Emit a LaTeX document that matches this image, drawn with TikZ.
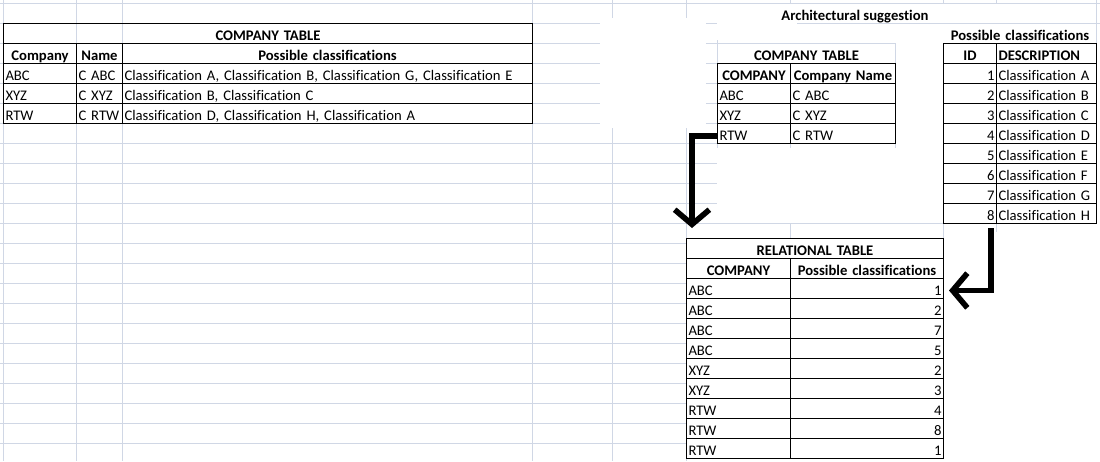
\documentclass[tikz,border=0pt]{standalone}
\usepackage{fontspec}
\setmainfont{Carlito}[Ligatures={NoCommon}]
\usepackage{xcolor}
\usepackage{tikz}
\usetikzlibrary{arrows.meta}
\definecolor{sheetgray}{RGB}{208,215,229}
\newcommand{\cfont}{\fontsize{11pt}{13pt}\selectfont}

\begin{document}
\begin{tikzpicture}[x=0.75pt, y=-0.75pt,
    every node/.style={font=\cfont},
    sheetline/.style={draw=sheetgray, line width=0.75pt},
    cell/.style={draw=black, line width=0.75pt, anchor=north west,
      inner xsep=1.5pt, inner ysep=0pt, text height=12.75pt,
      text depth=2.25pt, text width=#1, align=left},
    ctr/.style={align=center},
    rgt/.style={align=right},
    hd/.style={font=\cfont\bfseries},
    bigarrow/.style={draw=black, line width=4.2pt,
      -{Straight Barb[length=11pt, width=26pt]}}]
  \fill[white] (0, 0) rectangle (1100, 461);
  \useasboundingbox (0, 0) rectangle (1100, 461);

  \foreach \y in {3, 23, ..., 223} \draw[sheetline] (0, \y) -- (717, \y);
  \foreach \y in {243, 263, ..., 443} \draw[sheetline] (0, \y) -- (686, \y);
  \foreach \x in {3, 76, 122, 532, 612, 686} \draw[sheetline] (\x, 0) -- (\x, 461);
  \fill[white] (600, 18) rectangle (706, 128);
  \draw[sheetline] (686, 3) -- (1100, 3);
  \draw[sheetline] (797, 23) -- (1100, 23);
  \draw[sheetline] (717, 223) -- (943, 223);
  \draw[sheetline] (717, 40) -- (717, 148);
  \draw[sheetline] (895, 63) -- (895, 148);
  \draw[sheetline] (790, 143) -- (790, 148);
  \draw[sheetline] (1096, 0) -- (1096, 43);
  \foreach \x in {790, 943, 996} \draw[sheetline] (\x, 0) -- (\x, 3);
  \foreach \x in {790, 943} \draw[sheetline] (\x, 223) -- (\x, 238);
  \draw[sheetline] (996, 223) -- (996, 232);

  \node[cell=393.75pt, ctr, hd] (lt) at (3, 23) {COMPANY TABLE};
  \node[cell=51.75pt, ctr, hd] (lh1) at (3, 43) {Company};
  \node[cell=31.5pt, ctr, hd] (lh2) at (76, 43) {Name};
  \node[cell=304.5pt, ctr, hd] (lh3) at (122, 43) {Possible classifications};
  \foreach \c/\n/\p [count=\i] in {ABC/C ABC/{Classification A, Classification B, Classification G, Classification E},
      XYZ/C XYZ/{Classification B, Classification C},
      RTW/C RTW/{Classification D, Classification H, Classification A}} {
    \node[cell=51.75pt] (lc\i) at (3, 43+20*\i) {\c};
    \node[cell=31.5pt] (ln\i) at (76, 43+20*\i) {\n};
    \node[cell=304.5pt] (lp\i) at (122, 43+20*\i) {\p};
  }

  \node[hd, anchor=base] (arch) at (855, 20) {Architectural suggestion};

  \node[cell=130.5pt, ctr, hd, draw=sheetgray] (ct) at (717, 43) {COMPANY TABLE};
  \node[cell=51.75pt, ctr, hd] (ch1) at (717, 63) {COMPANY};
  \node[cell=75.75pt, ctr, hd] (ch2) at (790, 63) {Company Name};
  \foreach \c/\n [count=\i] in {ABC/C ABC, XYZ/C XYZ, RTW/C RTW} {
    \node[cell=51.75pt] (cc\i) at (717, 63+20*\i) {\c};
    \node[cell=75.75pt] (cn\i) at (790, 63+20*\i) {\n};
  }

  \node[cell=111.75pt, ctr, hd, draw=none] (pt) at (943, 23) {Possible classifications};
  \node[cell=36.75pt, ctr, hd] (ph1) at (943, 43) {ID};
  \node[cell=72pt, hd] (ph2) at (996, 43) {DESCRIPTION};
  \foreach \l [count=\i] in {A, B, C, D, E, F, G, H} {
    \node[cell=36.75pt, rgt] (pi\i) at (943, 43+20*\i) {\i};
    \node[cell=72pt] (pd\i) at (996, 43+20*\i) {Classification \l};
  }

  \node[cell=189.75pt, ctr, hd] (rt) at (686, 238) {RELATIONAL TABLE};
  \node[cell=75pt, ctr, hd] (rh1) at (686, 258) {COMPANY};
  \node[cell=111.75pt, ctr, hd] (rh2) at (790, 258) {Possible classifications};
  \foreach \c/\n [count=\i] in {ABC/1, ABC/2, ABC/7, ABC/5, XYZ/2, XYZ/3, RTW/4, RTW/8, RTW/1} {
    \node[cell=75pt] (rc\i) at (686, 258+20*\i) {\c};
    \node[cell=111.75pt, rgt] (rn\i) at (790, 258+20*\i) {\n};
  }

  \draw[bigarrow] ([yshift=-2pt]cc3.west) -| ([xshift=4.5pt, yshift=7.5pt]rt.north west);
  \draw[bigarrow] ([xshift=-4.5pt, yshift=-3pt]pi8.south east) |- ([xshift=3.75pt, yshift=-1.5pt]rn1.east);
\end{tikzpicture}
\end{document}
